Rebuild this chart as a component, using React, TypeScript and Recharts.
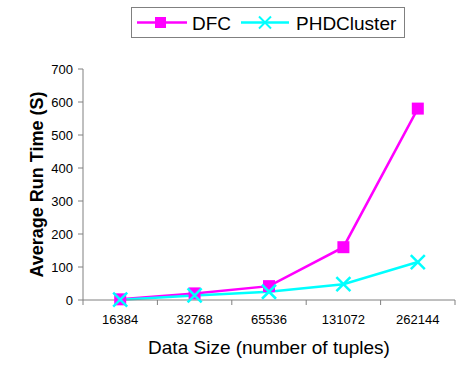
import React from "react";
import { LineChart, Line, XAxis, YAxis, Legend } from "recharts";

const sizes = ["16384", "32768", "65536", "131072", "262144"];
const dfc = [2, 20, 42, 160, 580];
const phdCluster = [1, 14, 25, 48, 115];
const yTicks = [0, 100, 200, 300, 400, 500, 600, 700];

const MAGENTA = "#FF00FF";
const CYAN = "#00FFFF";
const AXIS = "#808080";
const FONT = "'Liberation Sans', Arial, sans-serif";

const data = sizes.map((s, i) => ({
  pos: i + 0.5,
  size: s,
  dfc: dfc[i],
  phd: phdCluster[i],
}));

const SquareDot = ({ cx, cy, size = 12 }: any) => {
  if (cx == null || cy == null) return null;
  return (
    <rect x={cx - size / 2} y={cy - size / 2} width={size} height={size} fill={MAGENTA} />
  );
};

const CrossDot = ({ cx, cy, size = 14 }: any) => {
  if (cx == null || cy == null) return null;
  const h = size / 2;
  return (
    <g stroke={CYAN} strokeWidth={2.5}>
      <line x1={cx - h} y1={cy - h} x2={cx + h} y2={cy + h} />
      <line x1={cx - h} y1={cy + h} x2={cx + h} y2={cy - h} />
    </g>
  );
};

const YTitle = (props: any) => {
  const vb = props.viewBox || { x: 0, y: 69, width: 83, height: 231 };
  const cx = vb.x + 37;
  const cy = vb.y + vb.height / 2;
  return (
    <text
      x={cx}
      y={cy}
      transform={`rotate(-90 ${cx} ${cy})`}
      textAnchor="middle"
      dominantBaseline="central"
      fontFamily={FONT}
      fontSize={18}
      fontWeight="bold"
      fill="#000"
    >
      Average Run Time (S)
    </text>
  );
};

const LegendBox = () => (
  <svg width={274} height={31} style={{ display: "block" }}>
    <rect x={0.5} y={0.5} width={273} height={30} fill="#fff" stroke={AXIS} />
    <line x1={6} x2={56} y1={15.5} y2={15.5} stroke={MAGENTA} strokeWidth={2.5} />
    <rect x={24} y={10} width={11} height={11} fill={MAGENTA} />
    <text x={61} y={22.5} fontFamily={FONT} fontSize={19} fill="#000">
      DFC
    </text>
    <line x1={110} x2={158} y1={15.5} y2={15.5} stroke={CYAN} strokeWidth={2.5} />
    <g stroke={CYAN} strokeWidth={2}>
      <line x1={128} y1={9.5} x2={140} y2={21.5} />
      <line x1={128} y1={21.5} x2={140} y2={9.5} />
    </g>
    <text x={165} y={22.5} fontFamily={FONT} fontSize={19} fill="#000">
      PHDCluster
    </text>
  </svg>
);

export default function App() {
  return (
    <div style={{ position: "absolute", left: 0, top: 0, background: "#fff" }}>
      <LineChart
        width={474}
        height={383}
        data={data}
        margin={{ top: 69, right: 19, left: 0, bottom: 17 }}
      >
        <XAxis
          dataKey="pos"
          type="number"
          domain={[0, 5]}
          ticks={[0, 1, 2, 3, 4, 5]}
          height={6}
          tickSize={5}
          stroke={AXIS}
          tickFormatter={() => ""}
        />
        <XAxis
          xAxisId="lab"
          dataKey="pos"
          type="number"
          domain={[0, 5]}
          ticks={data.map((d) => d.pos)}
          height={60}
          axisLine={false}
          tickLine={false}
          tickSize={0}
          tickMargin={9}
          tickFormatter={(v: number) => sizes[Math.floor(v)]}
          tick={{ fill: "#000", fontSize: 13, fontFamily: FONT }}
          label={{
            value: "Data Size (number of tuples)",
            position: "insideBottom",
            offset: 12,
            fill: "#000",
            fontSize: 19,
            fontFamily: FONT,
          }}
        />
        <YAxis
          domain={[0, 700]}
          ticks={yTicks}
          width={83}
          tickSize={5}
          tickMargin={5}
          stroke={AXIS}
          tick={{ fill: "#000", fontSize: 13, fontFamily: FONT }}
          label={<YTitle />}
        />
        <Legend
          layout="vertical"
          verticalAlign="middle"
          align="center"
          wrapperStyle={{ top: 7, left: 131, width: 274, height: 31 }}
          content={() => <LegendBox />}
        />
        <Line
          dataKey="dfc"
          name="DFC"
          stroke={MAGENTA}
          strokeWidth={2.5}
          dot={<SquareDot />}
          activeDot={false}
          isAnimationActive={false}
        />
        <Line
          dataKey="phd"
          name="PHDCluster"
          stroke={CYAN}
          strokeWidth={2.5}
          dot={<CrossDot />}
          activeDot={false}
          isAnimationActive={false}
        />
      </LineChart>
    </div>
  );
}
